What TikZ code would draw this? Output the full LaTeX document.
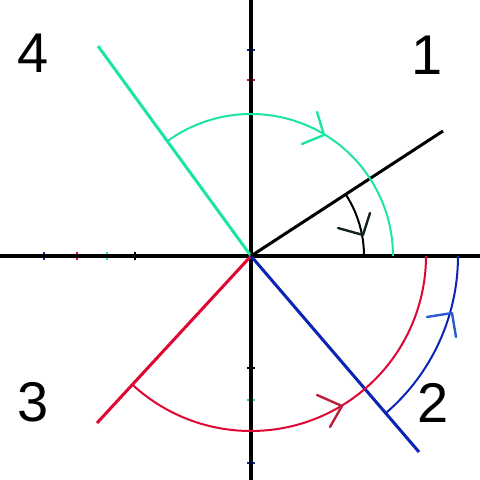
\documentclass[tikz,border=0pt]{standalone}
\usepackage{fontspec}
\setmainfont{Liberation Sans}
\definecolor{tealc}{HTML}{1EE3A6}
\definecolor{redc}{HTML}{DE0632}
\definecolor{bluec}{HTML}{0C24B4}
\definecolor{bluearrow}{HTML}{2A5BD0}
\definecolor{redarrow}{HTML}{B8203A}
\definecolor{blackarrow}{HTML}{10241C}
\begin{document}
\begin{tikzpicture}[x=1pt,y=1pt,
  axisline/.style={line width=4.5pt,black},
  ray/.style={line width=3pt},
  arcline/.style={line width=2pt},
  arrowv/.style={line width=2.4pt,line cap=round,line join=round},
  tickm/.style={line width=1.8pt},
  lab/.style={inner sep=0pt,font=\fontsize{56}{56}\selectfont}]
\useasboundingbox (-251,-224) rectangle (229,256);
\fill[white] (-251,-224) rectangle (229,256);
% axes
\coordinate (xl) at (-251,0);
\coordinate (xr) at (229,0);
\coordinate (yt) at (0,256);
\coordinate (yb) at (0,-224);
\coordinate (O) at (0,0);
% ticks on vertical axis
\foreach \yy/\cc in {206/bluec,176/redc,-112/black,-144/tealc,-207/bluec}
  \draw[tickm,\cc] (-4,\yy) -- (4,\yy);
% ticks on horizontal axis
\foreach \xx/\cc in {-207/bluec,-174/redc,-144/tealc,-116/black}
  \draw[tickm,\cc] (\xx,-3.8) -- (\xx,3.8);
\draw[axisline] (xl) -- (xr);
\draw[axisline] (yt) -- (yb);
% ray end points
\coordinate (bk) at (192,125);
\coordinate (tl) at (-153,210);
\coordinate (rd) at (-154,-167);
\coordinate (bl) at (168,-196);
\draw[ray,tealc] (O) -- (tl);
\draw[ray,redc] (O) -- (rd);
\draw[ray,bluec] (O) -- (bl);
\draw[ray,black] (O) -- (bk);
% arcs
\coordinate (ak) at (33.07:113);
\coordinate (at) at (126.1:142);
\coordinate (ar) at (227.3:175);
\coordinate (ab) at (-49.4:207);
\draw[arcline,black] (ak) arc[start angle=33.07,end angle=0,radius=113];
\draw[arcline,tealc] (at) arc[start angle=126.1,end angle=0,radius=142];
\draw[arcline,redc] (ar) arc[start angle=227.3,end angle=360,radius=175];
\draw[arcline,bluec] (ab) arc[start angle=-49.4,end angle=0,radius=207];
% arrowheads (open V)
\coordinate (tk) at (112,21);
\coordinate (tk1) at (87,28);
\coordinate (tk2) at (119,43);
\draw[arrowv,blackarrow] (tk1) -- (tk) -- (tk2);
\coordinate (tt) at (73,121);
\coordinate (tt1) at (66,144);
\coordinate (tt2) at (51,112);
\draw[arrowv,tealc] (tt1) -- (tt) -- (tt2);
\coordinate (tr) at (91,-150);
\coordinate (tr1) at (66,-139);
\coordinate (tr2) at (79,-171);
\draw[arrowv,redarrow] (tr1) -- (tr) -- (tr2);
\coordinate (tb) at (201,-57);
\coordinate (tb1) at (176,-61);
\coordinate (tb2) at (205,-81);
\draw[arrowv,bluearrow] (tb1) -- (tb) -- (tb2);
% quadrant labels
\node[lab] (q4) at (-218,203) {4};
\node[lab] (q1) at (176,201) {1};
\node[lab] (q3) at (-218,-146) {3};
\node[lab] (q2) at (182,-147) {2};
\end{tikzpicture}
\end{document}
